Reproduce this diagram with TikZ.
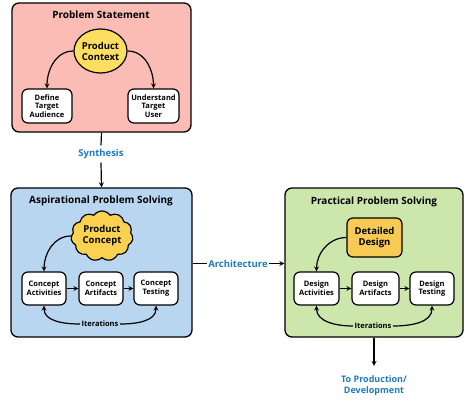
\documentclass[tikz,border=0pt]{standalone}
\usepackage{fontspec}
\setmainfont{Open Sans}
\usetikzlibrary{positioning,shapes.geometric,shapes.symbols}

\definecolor{probfill}{RGB}{250,188,180}
\definecolor{aspfill}{RGB}{184,214,240}
\definecolor{pracfill}{RGB}{204,230,172}
\definecolor{ctxfill}{RGB}{255,222,96}
\definecolor{cloudfill}{RGB}{250,210,80}
\definecolor{detfill}{RGB}{246,202,84}
\definecolor{labelblue}{RGB}{30,122,190}

\tikzset{
  bigbox/.style={draw, line width=1.3pt, rounded corners=7pt},
  stepbox/.style={draw, fill=white, line width=1.2pt, rounded corners=6pt,
    align=center, inner sep=1pt, font=\fontsize{7.5}{8.7}\selectfont\bfseries},
  boxtitle/.style={font=\fontsize{10}{12}\selectfont\bfseries},
  flowlabel/.style={text=labelblue, align=center, font=\fontsize{9.5}{11}\selectfont\bfseries},
  iterlabel/.style={inner sep=1pt, font=\fontsize{7.5}{9}\selectfont\bfseries},
}

\begin{document}
\begin{tikzpicture}[x=1pt, y=-1pt, >=stealth, line width=1.2pt]
    \useasboundingbox (0,0) rectangle (474,416);

    % 问题陈述框
    \node[bigbox, fill=probfill, minimum width=179pt, minimum height=129pt] (ps) at (101.5,67.5) {};
    \node[boxtitle] (pstitle) at (101,15) {Problem Statement};
    \node[ellipse, draw, fill=ctxfill, line width=1.2pt, minimum width=53pt, minimum height=44pt,
          inner sep=0pt, align=center, font=\fontsize{9.5}{11}\selectfont\bfseries] (ctx) at (100.5,51) {Product\\Context};
    \node[stepbox, minimum width=50pt, minimum height=34pt] (aud) at (47,106) {Define\\Target\\Audience};
    \node[stepbox, minimum width=51pt, minimum height=34pt] (usr) at (153.5,106) {Understand\\Target\\User};
    \draw[->] (ctx.west) to[out=180, in=90] (aud.north);
    \draw[->] (ctx.east) to[out=0, in=90] (usr.north);

    % 理想问题求解框
    \node[bigbox, fill=aspfill, minimum width=181pt, minimum height=149pt] (aps) at (101.5,262.5) {};
    \node[boxtitle] (apstitle) at (101,201) {Aspirational Problem Solving};
    \node[cloud, cloud puffs=11, cloud puff arc=110, aspect=1.3, draw, fill=cloudfill, line width=1.2pt,
          minimum width=62pt, minimum height=50pt, inner sep=0pt, align=center,
          font=\fontsize{9.5}{11}\selectfont\bfseries] (pc) at (102,236) {Product\\Concept};
    \node[stepbox, minimum width=44pt, minimum height=33pt] (cact) at (44,288.5) {Concept\\Activities};
    \node[stepbox, minimum width=44pt, minimum height=33pt] (cart) at (101,288.5) {Concept\\Artifacts};
    \node[stepbox, minimum width=44pt, minimum height=33pt] (ctst) at (156,288.5) {Concept\\Testing};
    \node[iterlabel] (citer) at (100,324) {Iterations};
    \draw[->] (pc.west) to[out=180, in=90] (cact.north);
    \draw[->] (cact) -- (cart);
    \draw[->] (cart) -- (ctst);
    \draw[->] (citer.west) to[out=180, in=-90] (cact.south);
    \draw[->] (citer.east) to[out=0, in=-90] (ctst.south);

    % 实际问题求解框
    \node[bigbox, fill=pracfill, minimum width=178pt, minimum height=149pt] (pps) at (374,262.5) {};
    \node[boxtitle] (ppstitle) at (374,202) {Practical Problem Solving};
    \node[draw, fill=detfill, line width=1.2pt, rounded corners=6pt, minimum width=55pt, minimum height=39pt,
          align=center, font=\fontsize{9.5}{11}\selectfont\bfseries] (dd) at (374.5,237.5) {Detailed\\Design};
    \node[stepbox, minimum width=45pt, minimum height=33pt] (dact) at (316.5,288.5) {Design\\Activities};
    \node[stepbox, minimum width=47pt, minimum height=33pt] (dart) at (375.5,288.5) {Design\\Artifacts};
    \node[stepbox, minimum width=44pt, minimum height=33pt] (dtst) at (432,288.5) {Design\\Testing};
    \node[iterlabel] (diter) at (373,326) {Iterations};
    \draw[->] (dd.west) to[out=180, in=90] (dact.north);
    \draw[->] (dact) -- (dart);
    \draw[->] (dart) -- (dtst);
    \draw[->] (diter.west) to[out=180, in=-90] (dact.south);
    \draw[->] (diter.east) to[out=0, in=-90] (dtst.south);

    % 框之间的连线
    \node[flowlabel] (syn) at (101,154) {Synthesis};
    \draw (ps.south) -- (syn.north);
    \draw[->] (syn.south) -- (aps.north);
    \node[flowlabel, inner sep=1pt] (arch) at (238,263.5) {Architecture};
    \draw (aps.east |- arch.west) -- (arch.west);
    \draw[->] (arch.east) -- (pps.west |- arch.east);
    \coordinate (prod) at (374,366);
    \draw[->] (pps.south) -- (prod);
    \node[flowlabel, font=\fontsize{9}{10.5}\selectfont\bfseries, below=6pt of prod] (out) {To Production/\\Development};
\end{tikzpicture}
\end{document}
